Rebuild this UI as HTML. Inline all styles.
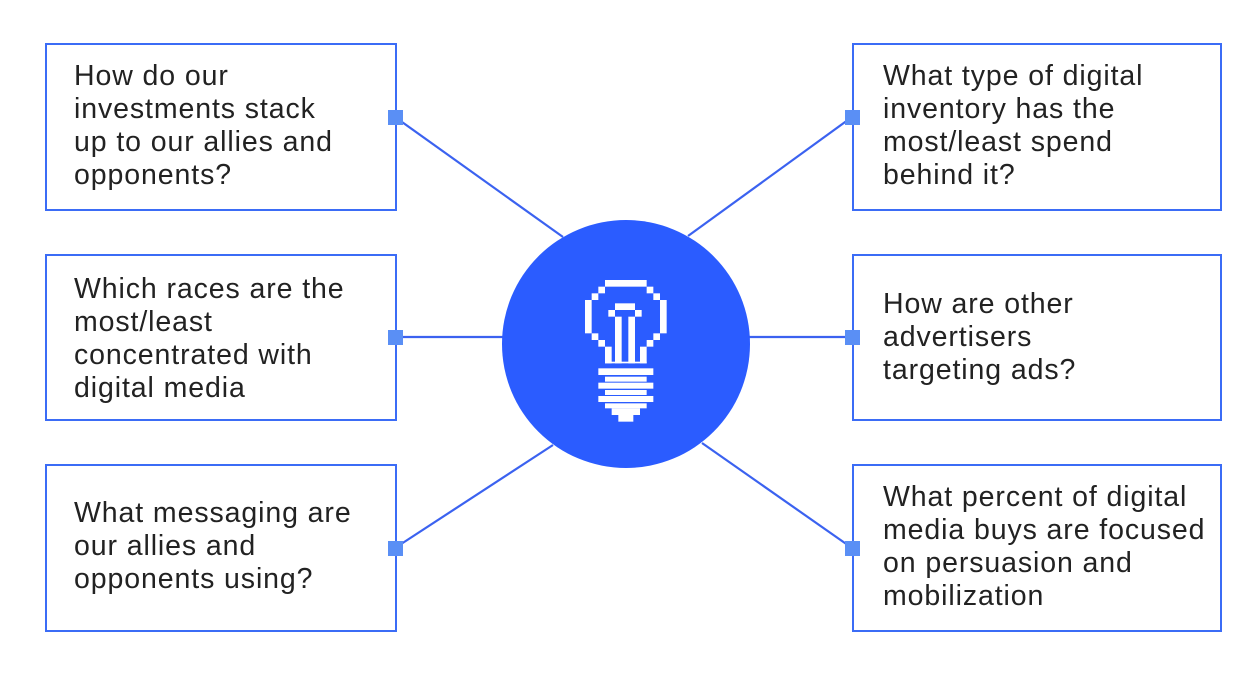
<!DOCTYPE html>
<html><head><style>
body{margin:0;width:1260px;height:683px;background:#fff;position:relative;overflow:hidden;font-family:"Liberation Sans",sans-serif}
.b{position:absolute;border:2px solid #3b6cf6;box-sizing:border-box;background:#fff}
.t{position:absolute;font-size:28.5px;line-height:33px;color:#222;letter-spacing:0.9px;white-space:nowrap}
</style></head><body>
<svg width="1260" height="683" style="position:absolute;left:0;top:0">
<g stroke="#3b62f0" stroke-width="2.2">
<line x1="395" y1="117" x2="563" y2="237"/>
<line x1="395" y1="337" x2="510" y2="337"/>
<line x1="395" y1="548" x2="553" y2="445"/>
<line x1="852" y1="117" x2="688" y2="236"/>
<line x1="852" y1="337" x2="745" y2="337"/>
<line x1="852" y1="548" x2="702" y2="443"/>
</g>
<circle cx="626" cy="344" r="124" fill="#2b5cff"/>
</svg>
<div class="b" style="left:45px;top:43px;width:352px;height:168px"></div>
<div class="b" style="left:45px;top:254px;width:352px;height:167px"></div>
<div class="b" style="left:45px;top:464px;width:352px;height:168px"></div>
<div class="b" style="left:852px;top:43px;width:370px;height:168px"></div>
<div class="b" style="left:852px;top:254px;width:370px;height:167px"></div>
<div class="b" style="left:852px;top:464px;width:370px;height:168px"></div>
<svg width="1260" height="683" style="position:absolute;left:0;top:0">
<g fill="#5a8ff5">
<rect x="388" y="110" width="15" height="15"/><rect x="388" y="330" width="15" height="15"/><rect x="388" y="541" width="15" height="15"/>
<rect x="845" y="110" width="15" height="15"/><rect x="845" y="330" width="15" height="15"/><rect x="845" y="541" width="15" height="15"/>
</g>
<svg x="570" y="270" width="100" height="160" viewBox="0 0 300 480"><g fill="#fff">
<rect x="105" y="30" width="125" height="20"/>
<rect x="85" y="50" width="20" height="20"/><rect x="230" y="50" width="20" height="20"/>
<rect x="65" y="70" width="20" height="20"/><rect x="250" y="70" width="20" height="20"/>
<rect x="45" y="90" width="20" height="100"/><rect x="270" y="90" width="20" height="100"/>
<rect x="65" y="190" width="20" height="20"/><rect x="250" y="190" width="20" height="20"/>
<rect x="85" y="210" width="20" height="20"/><rect x="230" y="210" width="20" height="20"/>
<rect x="105" y="230" width="20" height="50"/><rect x="210" y="230" width="20" height="50"/>
<rect x="135" y="100" width="60" height="20"/>
<rect x="115" y="120" width="20" height="20"/><rect x="195" y="120" width="20" height="20"/>
<rect x="135" y="140" width="20" height="140"/><rect x="175" y="140" width="20" height="140"/>
<rect x="105" y="275" width="125" height="5"/>
<rect x="85" y="295" width="165" height="20"/>
<rect x="105" y="320" width="125" height="15"/>
<rect x="85" y="338" width="165" height="18"/>
<rect x="105" y="360" width="125" height="15"/>
<rect x="85" y="378" width="165" height="18"/>
<rect x="105" y="400" width="125" height="15"/>
<rect x="125" y="415" width="85" height="20"/>
<rect x="145" y="435" width="45" height="20"/>
</g></svg>
</svg>
<div class="t" style="left:74px;top:60px">How do our<br>investments stack<br>up to our allies and<br>opponents?</div>
<div class="t" style="left:74px;top:273px">Which races are the<br>most/least<br>concentrated with<br>digital media</div>
<div class="t" style="left:74px;top:497px">What messaging are<br>our allies and<br>opponents using?</div>
<div class="t" style="left:883px;top:60px">What type of digital<br>inventory has the<br>most/least spend<br>behind it?</div>
<div class="t" style="left:883px;top:288px">How are other<br>advertisers<br>targeting ads?</div>
<div class="t" style="left:883px;top:481px">What percent of digital<br>media buys are focused<br>on persuasion and<br>mobilization</div>
</body></html>
